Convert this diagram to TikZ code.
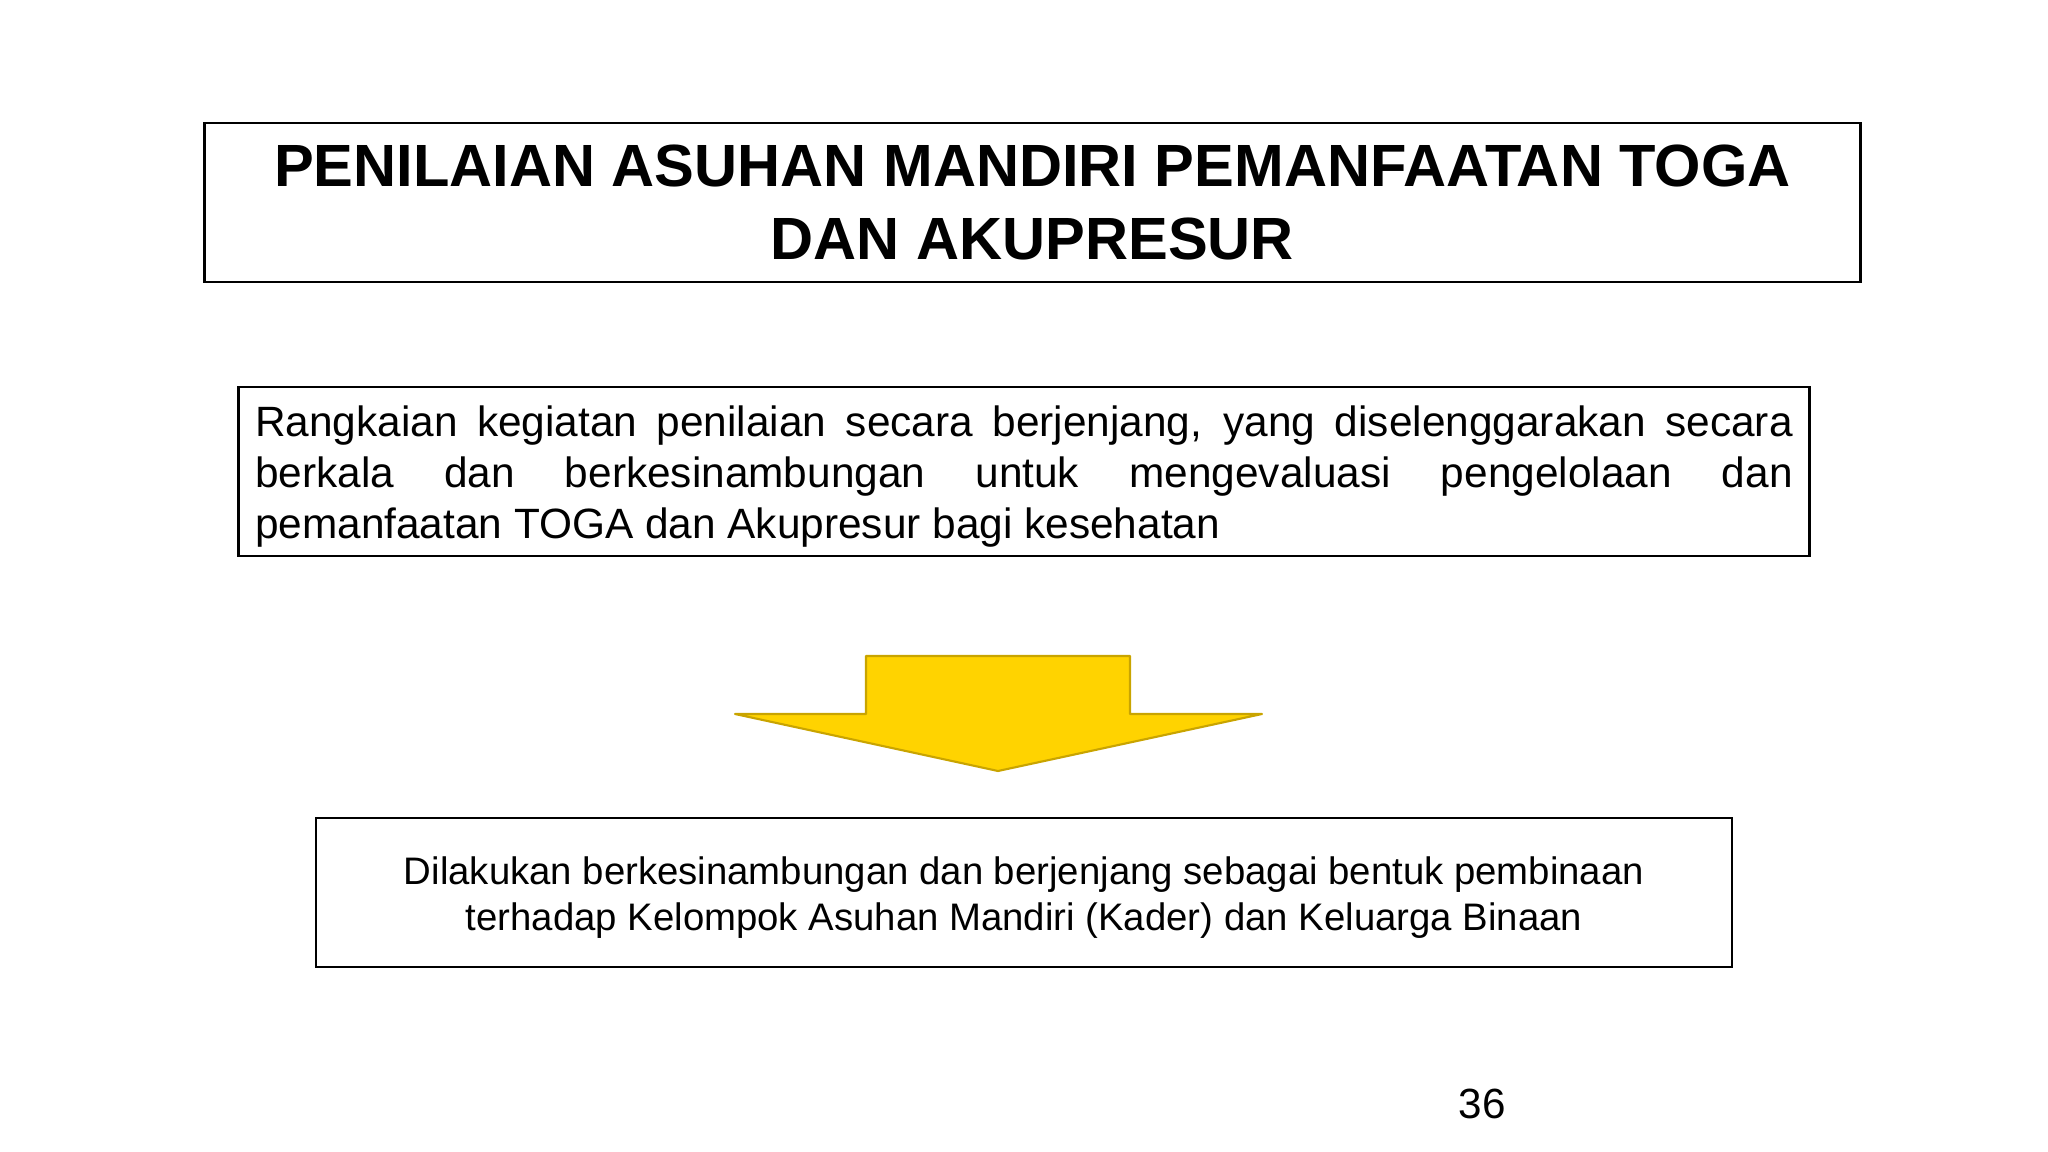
\documentclass[tikz,border=0pt]{standalone}
\usepackage{fontspec}
\setmainfont{Liberation Sans}
\definecolor{arrowfill}{HTML}{FFD300}
\definecolor{arrowline}{HTML}{C9A400}
\tikzset{
  box/.style={draw=black, line width=0.6pt, inner sep=0pt, outer sep=0pt},
}
\begin{document}
\begin{tikzpicture}[x=0.01cm,y=-0.01cm]
\useasboundingbox (0,0) rectangle (2048,1152);
% title box
\node[box, minimum width=16.55cm, minimum height=1.59cm] (title) at (1032.5,202.5) {};
\node[align=center, font=\fontsize{16.95pt}{20.5pt}\selectfont\bfseries] (titletext) at (title.center) {PENILAIAN ASUHAN MANDIRI PEMANFAATAN TOGA\\DAN AKUPRESUR};
% description box
\node[box, minimum width=15.70cm, minimum height=1.69cm] (desc) at (1024,471.5) {};
\node[text width=15.37cm, align=justify, inner sep=0pt, font=\fontsize{12.05pt}{14.6pt}\selectfont] (desctext) at ([yshift=-0.05cm]desc.center) {Rangkaian kegiatan penilaian secara berjenjang, yang diselenggarakan secara\linebreak berkala dan berkesinambungan untuk mengevaluasi pengelolaan dan\linebreak pemanfaatan TOGA dan Akupresur bagi kesehatan};
% arrow
\coordinate (arrowtip) at (998,771);
\draw[fill=arrowfill, draw=arrowline, line width=0.6pt, line join=round]
  (866,656) -- (1130,656) -- (1130,714) -- (1262,714) -- (arrowtip) -- (735,714) -- (866,714) -- cycle;
% bottom box
\node[box, minimum width=14.16cm, minimum height=1.49cm] (bottom) at (1024,892.5) {};
\node[align=center, font=\fontsize{10.9pt}{13.3pt}\selectfont] (bottomtext) at ([yshift=-0.05cm]bottom.center) {Dilakukan berkesinambungan dan berjenjang sebagai bentuk pembinaan\\terhadap Kelompok Asuhan Mandiri (Kader) dan Keluarga Binaan};
% page number
\node[font=\fontsize{12pt}{14pt}\selectfont] (pagenum) at (1482,1104) {36};
\end{tikzpicture}
\end{document}
